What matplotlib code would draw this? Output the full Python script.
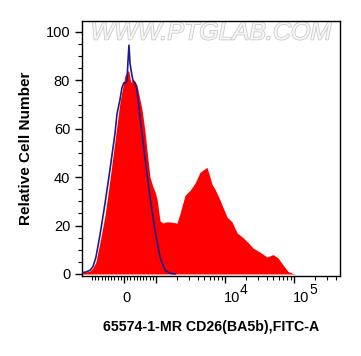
import matplotlib
matplotlib.use("Agg")
import matplotlib.pyplot as plt
import matplotlib.patheffects as pe
from matplotlib.ticker import FixedLocator, NullFormatter

plt.rcParams['font.family'] = ['Liberation Sans', 'DejaVu Sans']

# sample (red filled histogram): fluorescence value, relative count
red_x = [-1396, -1222, -1069, -969, -875, -750, -594, -438, -281, -125, 31, 125, 156, 188,
         219, 250, 344, 406, 500, 562, 656, 719, 812, 906, 969, 1034, 1143, 1263, 1396,
         1595, 2016, 2228, 2632, 3110, 3676, 4343, 5129, 5483, 6063, 6481, 7163, 8466,
         10690, 12630, 14920, 18230, 21540, 25460, 32150, 40600, 49640, 58650, 69300,
         81880, 96800, 106900]
red_y = [0.5, 0.8, 1.2, 2.5, 5, 13, 24, 39, 55, 71, 82, 84, 83.5, 81,
         79, 80, 79.5, 78, 72, 68, 59, 51, 40, 36, 34, 31, 22, 21, 21.5,
         21.5, 21, 25, 32.5, 34.5, 37.5, 42, 43.5, 44, 40, 37, 35, 30.5,
         23.5, 21.5, 17, 15, 13, 10.7, 9, 7, 8, 6.6, 3.7,
         1, 0.2, 0]

# isotype control (blue line)
blue_x = [-1396, -1222, -1069, -969, -875, -750, -594, -438, -281, -219, -125, -62, 0,
          62, 94, 125, 156, 188, 250, 281, 344, 406, 500, 656, 812, 969, 1143, 1350,
          1595, 1884]
blue_y = [0.5, 0.8, 1.5, 3, 7, 16, 29, 43, 58, 66, 72, 77, 79,
          79, 80, 88, 94.5, 87, 82, 80, 79, 76, 65, 48, 32, 18, 7, 1.6,
          0.3, 0]

x_major = [0, 1e3, 1e4, 1e5]
x_minor = ([v * 100 for v in range(-10, 11) if v != 0]
           + [m * 1e3 for m in range(2, 10)] + [m * 1e4 for m in range(2, 10)]
           + [m * 1e5 for m in range(2, 5)])
pow_ticks = [1e4, 1e5]
pow_exps = ['4', '5']

fig = plt.figure(figsize=(3.61, 3.56), dpi=100)
ax = fig.add_axes([0.227, 0.225, 0.715, 0.716])

ax.fill_between(red_x, red_y, color='#ff0000', lw=0, zorder=2)
ax.plot(blue_x, blue_y, color='#1c1c8c', lw=1.2, zorder=3)

ax.set_xscale('symlog', linthresh=1000, linscale=0.4176)
ax.set_xlim(-1396, 464000)
ax.set_ylim(-0.8, 104.5)

ax.xaxis.set_major_locator(FixedLocator(x_major))
ax.set_xticklabels([''] * len(x_major))
ax.xaxis.set_minor_locator(FixedLocator(x_minor))
ax.xaxis.set_minor_formatter(NullFormatter())
ax.set_yticks([0, 20, 40, 60, 80, 100])
ax.set_yticks(range(0, 105, 5), minor=True)

ax.tick_params(axis='both', which='major', direction='out', length=5, width=1,
               labelsize=10.5, colors='black')
ax.tick_params(axis='both', which='minor', direction='out', length=3, width=0.8)
for s in ax.spines.values():
    s.set_linewidth(1)

# x tick labels drawn by hand: FlowJo style "10" with a big exponent
ax.annotate('0', xy=(0, 0), xycoords=('data', 'axes fraction'), xytext=(3, -26),
            textcoords='offset pixels', ha='center', va='baseline', fontsize=10.5)
for v, e in zip(pow_ticks, pow_exps):
    ax.annotate('10', xy=(v, 0), xycoords=('data', 'axes fraction'), xytext=(-1, -26),
                textcoords='offset pixels', ha='left', va='baseline', fontsize=10.5)
    ax.annotate(e, xy=(v, 0), xycoords=('data', 'axes fraction'), xytext=(15, -18),
                textcoords='offset pixels', ha='left', va='baseline', fontsize=10)

ax.set_ylabel('Relative Cell Number', fontsize=11, fontweight='bold', labelpad=9)
ax.set_xlabel('65574-1-MR CD26(BA5b),FITC-A', fontsize=10.2, fontweight='bold', labelpad=23)

ax.text(0.5, 0.955, 'WWW.PTGLAB.COM', transform=ax.transAxes, ha='center', va='center',
        fontsize=18, fontstyle='italic', color='#f6f6f6', zorder=1,
        path_effects=[pe.withStroke(linewidth=1.2, foreground='#cccccc')])

fig.savefig('out.png', dpi=100)
